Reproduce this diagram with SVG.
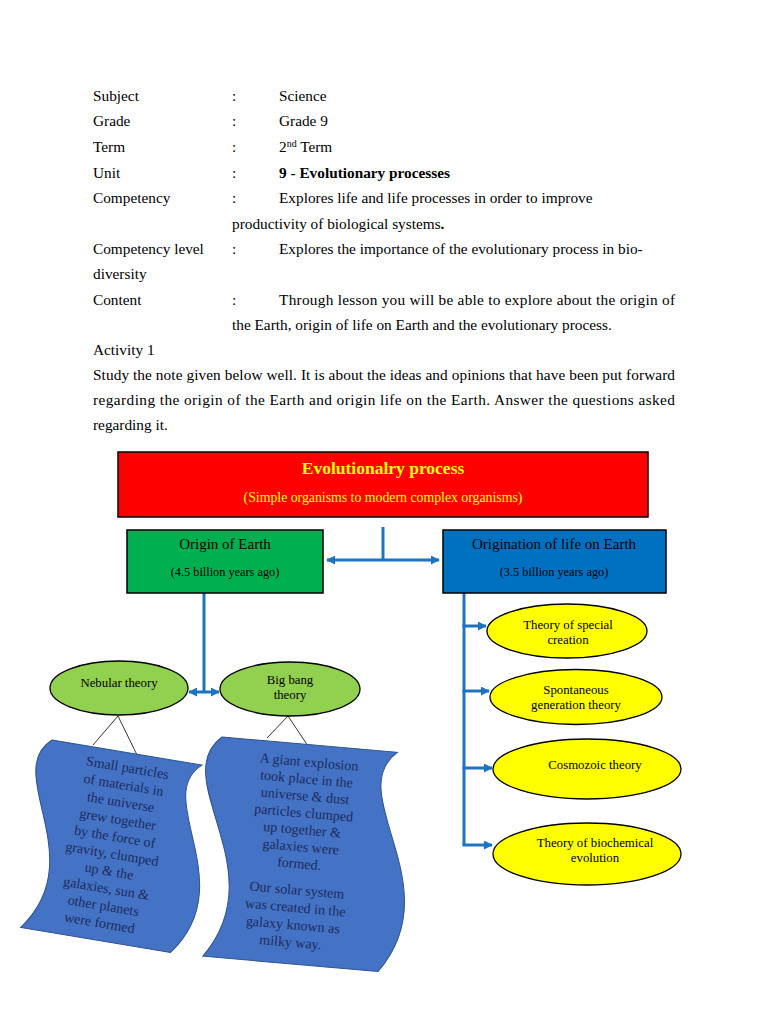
<svg xmlns="http://www.w3.org/2000/svg" width="768" height="1024" viewBox="0 0 768 1024">
<style>
.t{font-family:"Liberation Serif","Times New Roman",serif;font-size:15.3px;fill:#000}
.b{font-weight:bold}
.ttl{font-family:"Liberation Serif",serif;font-size:17.5px;font-weight:bold;fill:#FFFF00;text-anchor:middle}
.sub{font-family:"Liberation Serif",serif;font-size:13.8px;fill:#FFFF00;text-anchor:middle}
.bx{font-family:"Liberation Serif",serif;font-size:15px;fill:#000;text-anchor:middle}
.bxs{font-family:"Liberation Serif",serif;font-size:12.3px;fill:#000;text-anchor:middle}
.el{font-family:"Liberation Serif",serif;font-size:12.8px;fill:#000;text-anchor:middle}
.sc{font-family:"Liberation Serif",serif;font-size:14px;fill:#1c2b5e;text-anchor:middle}
.box{stroke:#000;stroke-width:1.5}
.ell{stroke:#000;stroke-width:1.3}
.scroll{fill:#4472C4;stroke:#2F528F;stroke-width:1}
.con{stroke:#1E73BE;stroke-width:3;fill:none}
.thin{stroke:#000;stroke-width:0.8;fill:none}
</style>
<defs>
<marker id="ah" viewBox="0 0 10 10" refX="9" refY="5" markerWidth="9" markerHeight="9" markerUnits="userSpaceOnUse" orient="auto-start-reverse">
<path d="M0,0 L10,5 L0,10 Z" fill="#1E73BE"/>
</marker>
</defs>

<g id="header">
<text class="t" x="93" y="101">Subject</text><text class="t" x="232" y="101">:</text><text class="t" x="279" y="101">Science</text>
<text class="t" x="93" y="126">Grade</text><text class="t" x="232" y="126">:</text><text class="t" x="279" y="126">Grade 9</text>
<text class="t" x="93" y="152">Term</text><text class="t" x="232" y="152">:</text><text class="t" x="279" y="152">2<tspan font-size="10" dy="-5">nd</tspan><tspan dy="5"> Term</tspan></text>
<text class="t" x="93" y="178">Unit</text><text class="t" x="232" y="178">:</text><text class="t b" x="279" y="178">9 - Evolutionary processes</text>
<text class="t" x="93" y="203">Competency</text><text class="t" x="232" y="203">:</text><text class="t" x="279" y="203">Explores life and life processes in order to improve</text>
<text class="t" x="232" y="229">productivity of biological systems<tspan class="b">.</tspan></text>
<text class="t" x="93" y="254">Competency level</text><text class="t" x="232" y="254">:</text><text class="t" x="279" y="254">Explores the importance of the evolutionary process in bio-</text>
<text class="t" x="93" y="279">diversity</text>
<text class="t" x="93" y="305">Content</text><text class="t" x="232" y="305">:</text><text class="t" x="279" y="305" textLength="396" lengthAdjust="spacing">Through lesson you will be able to explore about the origin of</text>
<text class="t" x="232" y="330">the Earth, origin of life on Earth and the evolutionary process.</text>
<text class="t" x="93" y="355">Activity 1</text>
<text class="t" x="93" y="380" textLength="582" lengthAdjust="spacing">Study the note given below well. It is about the ideas and opinions that have been put forward</text>
<text class="t" x="93" y="405" textLength="582" lengthAdjust="spacing">regarding the origin of the Earth and origin life on the Earth. Answer the questions asked</text>
<text class="t" x="93" y="430">regarding it.</text>
</g>

<g id="connectors">
<line class="con" x1="383" y1="527" x2="383" y2="560"/>
<line class="con" x1="327" y1="560" x2="439" y2="560" marker-start="url(#ah)" marker-end="url(#ah)"/>
<line class="con" x1="204" y1="593" x2="204" y2="692"/>
<line class="con" x1="189" y1="692" x2="219" y2="692" marker-start="url(#ah)" marker-end="url(#ah)"/>
<line class="con" x1="464" y1="593" x2="464" y2="845"/>
<line class="con" x1="462.5" y1="626" x2="486" y2="626" marker-end="url(#ah)"/>
<line class="con" x1="462.5" y1="691" x2="489" y2="691" marker-end="url(#ah)"/>
<line class="con" x1="462.5" y1="768" x2="492" y2="768" marker-end="url(#ah)"/>
<line class="con" x1="462.5" y1="845" x2="492" y2="845" marker-end="url(#ah)"/>
<line class="thin" x1="118" y1="716" x2="93" y2="745"/>
<line class="thin" x1="118" y1="716" x2="138" y2="757"/>
<line class="thin" x1="288" y1="716" x2="267" y2="738"/>
<line class="thin" x1="288" y1="716" x2="308" y2="746"/>
</g>

<g id="evolutionary-process">
<rect class="box" x="118" y="452" width="530" height="65" fill="#FF0000"/>
<text class="ttl" x="383" y="474">Evolutionalry process</text>
<text class="sub" x="383" y="502">(Simple organisms to modern complex organisms)</text>
</g>

<g id="origin-of-earth">
<rect class="box" x="127" y="530" width="196" height="63" fill="#00B050"/>
<text class="bx" x="225" y="549">Origin of Earth</text>
<text class="bxs" x="225" y="576">(4.5 billion years ago)</text>
</g>

<g id="origin-of-life">
<rect class="box" x="443" y="530" width="223" height="63" fill="#0070C0"/>
<text class="bx" x="554" y="549">Origination of life on Earth</text>
<text class="bxs" x="554" y="576">(3.5 billion years ago)</text>
</g>

<g id="nebular-theory">
<ellipse class="ell" cx="119" cy="688" rx="69" ry="27" fill="#92D050"/>
<text class="el" x="119" y="687">Nebular theory</text>
</g>

<g id="big-bang-theory">
<ellipse class="ell" cx="290" cy="689" rx="70" ry="27" fill="#92D050"/>
<text class="el" x="290" y="684">Big bang</text>
<text class="el" x="290" y="699">theory</text>
</g>

<g id="special-creation">
<ellipse class="ell" cx="567" cy="631" rx="80" ry="27" fill="#FFFF00"/>
<text class="el" x="568" y="629">Theory of special</text>
<text class="el" x="568" y="644">creation</text>
</g>

<g id="spontaneous-generation">
<ellipse class="ell" cx="576" cy="697" rx="86" ry="27.5" fill="#FFFF00"/>
<text class="el" x="576" y="694">Spontaneous</text>
<text class="el" x="576" y="709">generation theory</text>
</g>

<g id="cosmozoic">
<ellipse class="ell" cx="587" cy="769" rx="94" ry="30" fill="#FFFF00"/>
<text class="el" x="595" y="769">Cosmozoic theory</text>
</g>

<g id="biochemical-evolution">
<ellipse class="ell" cx="587" cy="854" rx="94" ry="31" fill="#FFFF00"/>
<text class="el" x="595" y="847">Theory of biochemical</text>
<text class="el" x="595" y="862">evolution</text>
</g>

<g id="nebular-note" transform="translate(52,740) rotate(9.5)">
<path class="scroll" d="M0,0 L152,0 C107,40 212,110 152,190 L0,190 C60,110 -45,40 0,0 Z"/>
<text class="sc" x="79" y="19.5">Small particles</text>
<text class="sc" x="78" y="37">of materials in</text>
<text class="sc" x="78" y="54.5">the universe</text>
<text class="sc" x="78" y="72">grew together</text>
<text class="sc" x="78" y="89.5">by the force of</text>
<text class="sc" x="78" y="107">gravity, clumped</text>
<text class="sc" x="78" y="124.5">up &amp; the</text>
<text class="sc" x="78" y="142">galaxies, sun &amp;</text>
<text class="sc" x="78" y="159.5">other planets</text>
<text class="sc" x="77" y="177">were formed</text>
</g>

<g id="big-bang-note" transform="translate(222,737) rotate(5)">
<path class="scroll" d="M0,0 L176,0 C124,46 242,128 176,220 L0,220 C66,128 -52,46 0,0 Z"/>
<text class="sc" x="89" y="22">A giant explosion</text>
<text class="sc" x="88" y="39">took place in the</text>
<text class="sc" x="88" y="56">universe &amp; dust</text>
<text class="sc" x="88" y="73">particles clumped</text>
<text class="sc" x="88" y="90">up together &amp;</text>
<text class="sc" x="88" y="107">galaxies were</text>
<text class="sc" x="88" y="124">formed.</text>
<text class="sc" x="88" y="150.5">Our solar system</text>
<text class="sc" x="88" y="168">was created in the</text>
<text class="sc" x="87" y="185.5">galaxy known as</text>
<text class="sc" x="86" y="203">milky way.</text>
</g>
</svg>
